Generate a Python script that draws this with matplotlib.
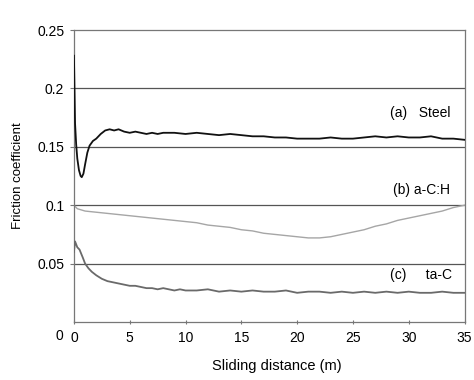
import matplotlib.pyplot as plt

plt.rcParams['font.family'] = ['Liberation Sans', 'DejaVu Sans']

# (a) Steel
dist_steel = [0, 0.05, 0.1, 0.2, 0.3, 0.45, 0.6, 0.7, 0.85, 1.0, 1.2, 1.4, 1.7, 2.0,
              2.4, 2.8, 3.2, 3.6, 4.0, 4.5, 5, 5.5, 6, 6.5, 7, 7.5, 8, 9, 10, 11, 12,
              13, 14, 15, 16, 17, 18, 19, 20, 21, 22, 23, 24, 25, 26, 27, 28, 29, 30,
              31, 32, 33, 34, 35]
mu_steel = [0.228, 0.20, 0.17, 0.152, 0.14, 0.13, 0.125, 0.124, 0.127, 0.135, 0.145,
            0.151, 0.155, 0.157, 0.161, 0.164, 0.165, 0.164, 0.165, 0.163, 0.162, 0.163,
            0.162, 0.161, 0.162, 0.161, 0.162, 0.162, 0.161, 0.162, 0.161, 0.160, 0.161,
            0.160, 0.159, 0.159, 0.158, 0.158, 0.157, 0.157, 0.157, 0.158, 0.157, 0.157,
            0.158, 0.159, 0.158, 0.159, 0.158, 0.158, 0.159, 0.157, 0.157, 0.156]

# (b) a-C:H
dist_ach = [0, 0.3, 1, 2, 3, 4, 5, 6, 7, 8, 9, 10, 11, 12, 13, 14, 15, 16, 17, 18,
            19, 20, 21, 22, 23, 24, 25, 26, 27, 28, 29, 30, 31, 32, 33, 34, 35]
mu_ach = [0.100, 0.097, 0.095, 0.094, 0.093, 0.092, 0.091, 0.090, 0.089, 0.088, 0.087,
          0.086, 0.085, 0.083, 0.082, 0.081, 0.079, 0.078, 0.076, 0.075, 0.074, 0.073,
          0.072, 0.072, 0.073, 0.075, 0.077, 0.079, 0.082, 0.084, 0.087, 0.089, 0.091,
          0.093, 0.095, 0.098, 0.100]

# (c) ta-C
dist_tac = [0, 0.1, 0.3, 0.5, 0.8, 1.0, 1.3, 1.6, 2.0, 2.5, 3.0, 3.5, 4.0, 4.5, 5,
            5.5, 6, 6.5, 7, 7.5, 8, 8.5, 9, 9.5, 10, 11, 12, 13, 14, 15, 16, 17, 18,
            19, 20, 21, 22, 23, 24, 25, 26, 27, 28, 29, 30, 31, 32, 33, 34, 35]
mu_tac = [0.060, 0.069, 0.064, 0.062, 0.055, 0.050, 0.046, 0.043, 0.040, 0.037, 0.035,
          0.034, 0.033, 0.032, 0.031, 0.031, 0.030, 0.029, 0.029, 0.028, 0.029, 0.028,
          0.027, 0.028, 0.027, 0.027, 0.028, 0.026, 0.027, 0.026, 0.027, 0.026, 0.026,
          0.027, 0.025, 0.026, 0.026, 0.025, 0.026, 0.025, 0.026, 0.025, 0.026, 0.025,
          0.026, 0.025, 0.025, 0.026, 0.025, 0.025]

y_ticks = [0.05, 0.1, 0.15, 0.2, 0.25]
y_labels = ['0.05', '0.1', '0.15', '0.2', '0.25']
x_ticks = [0, 5, 10, 15, 20, 25, 30, 35]

fig = plt.figure(figsize=(4.74, 3.8), dpi=100)
ax = fig.add_axes([0.156, 0.1526, 0.824, 0.7684])

for yg in y_ticks[:-1]:
    ax.axhline(yg, color='#555555', lw=0.9, zorder=1)

ax.plot(dist_ach, mu_ach, color='#a6a6a6', lw=1.0, zorder=2)
ax.plot(dist_tac, mu_tac, color='#6a6a6a', lw=1.3, zorder=3)
ax.plot(dist_steel, mu_steel, color='#111111', lw=1.3, zorder=4)

ax.set_xlim(0, 35)
ax.set_ylim(0, 0.25)
ax.set_xticks(x_ticks)
ax.set_yticks(y_ticks)
ax.set_yticklabels(y_labels)
ax.tick_params(axis='both', labelsize=10, length=3, color='#777777', pad=4)
ax.tick_params(axis='x', direction='inout', pad=5)
# the "0" of the y axis sits lower, on the line of the x labels
ax.text(-0.027, -0.048, '0', transform=ax.transAxes, ha='right', va='center',
        fontsize=10)

for s in ax.spines.values():
    s.set_color('#777777')
    s.set_linewidth(0.9)

ax.text(33.7, 0.1786, '(a)   Steel', fontsize=10, va='center', ha='right')
ax.text(33.7, 0.1128, '(b) a-C:H', fontsize=10, va='center', ha='right')
ax.text(33.9, 0.040, '(c)     ta-C', fontsize=10, va='center', ha='right')

ax.set_xlabel('Sliding distance (m)', fontsize=10.5)
ax.xaxis.set_label_coords(0.52, -0.125)
ax.set_ylabel('Friction coefficient', fontsize=9.5)
ax.yaxis.set_label_coords(-0.128, 0.5)

fig.savefig('out.png', dpi=100)
